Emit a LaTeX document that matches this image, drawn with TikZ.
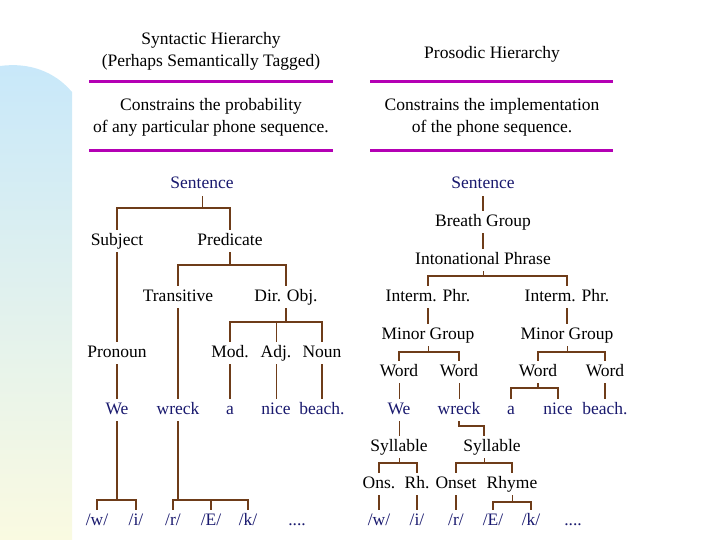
\documentclass[tikz,border=0pt]{standalone}
\usepackage{fontspec}
\setmainfont{Liberation Serif}
\usetikzlibrary{positioning}
\definecolor{navy}{RGB}{25,25,110}
\definecolor{bark}{RGB}{110,60,25}
\definecolor{rule}{RGB}{180,0,180}
\tikzstyle{lbl} = [inner xsep=1pt, inner ysep=3pt, text height=12pt, text depth=4pt, font=\fontsize{17.5}{20}\selectfont]
\tikzstyle{hd} = [inner sep=1pt, align=center, font=\fontsize{17.5}{22}\selectfont]
\tikzstyle{wrd} = [lbl, text=navy]
\tikzstyle{br} = [draw=bark, line width=2pt]
\tikzstyle{tn} = [draw=bark, line width=0.8pt]
\tikzstyle{bar} = [draw=rule, line width=3pt]
\begin{document}
\begin{tikzpicture}[x=1pt, y=1pt]
	\useasboundingbox (0,0) rectangle (720,-540);
	% background band - - - - - - - - - - - - - - - - - - - - - - - - - - -
	\shade[top color={rgb,255:red,200;green,232;blue,250}, bottom color={rgb,255:red,250;green,250;blue,225}]
		(0,-540) -- (0,-66) .. controls (30,-62) and (55,-72) .. (72,-92) -- (72,-540) -- cycle;

	% Headings - - - - - - - - - - - - - - - - - - - - - - - - - - - - - - -
	\node(synh) [hd] at (211,-51) {Syntactic Hierarchy\\(Perhaps Semantically Tagged)};
	\node(proh) [hd] at (492,-54) {Prosodic Hierarchy};
	\node(syndesc) [hd] at (211,-117) {Constrains the probability\\of any particular phone sequence.};
	\node(prodesc) [hd] at (492,-117) {Constrains the implementation\\of the phone sequence.};
	\coordinate (r1a) at (89,-82); \coordinate (r1b) at (333,-82);
	\coordinate (r2a) at (89,-151); \coordinate (r2b) at (333,-151);
	\coordinate (r3a) at (370,-82); \coordinate (r3b) at (613,-82);
	\coordinate (r4a) at (370,-151); \coordinate (r4b) at (613,-151);
	\draw[bar] (r1a) -- (r1b); \draw[bar] (r2a) -- (r2b);
	\draw[bar] (r3a) -- (r3b); \draw[bar] (r4a) -- (r4b);

	% Syntactic tree - - - - - - - - - - - - - - - - - - - - - - - - - - - -
	\node(ssent) [wrd] at (202,-185) {Sentence};
	\node(subj) [lbl] at (117,-241) {Subject};
	\node(pred) [lbl] at (230,-241) {Predicate};
	\node(trans) [lbl] at (178,-297) {Transitive};
	\node(dobj) [lbl] at (286,-297) {Dir. Obj.};
	\node(pron) [lbl] at (117,-353) {Pronoun};
	\node(mod) [lbl] at (230,-353) {Mod.};
	\node(adj) [lbl] at (276,-353) {Adj.};
	\node(noun) [lbl] at (322,-353) {Noun};
	\node(swe) [wrd] at (117,-410) {We};
	\node(swreck) [wrd] at (178,-410) {wreck};
	\node(sa) [wrd] at (230,-410) {a};
	\node(snice) [wrd] at (276,-410) {nice};
	\node(sbeach) [wrd] at (322,-410) {beach.};
	\node(sw) [wrd] at (97,-521) {/w/};
	\node(si) [wrd] at (136,-521) {/i/};
	\node(sr) [wrd] at (173,-521) {/r/};
	\node(se) [wrd] at (211,-521) {/E/};
	\node(sk) [wrd] at (248,-521) {/k/};
	\node(sdots) [wrd] at (297,-521) {....};

	\coordinate (b1) at (202,-208); \coordinate (b2) at (230,-265);
	\coordinate (b3) at (286,-322); \coordinate (b4) at (117,-500);
	\coordinate (b5) at (178,-500);
	\draw[tn](ssent)--(b1);
	\draw[br](subj)|-(b1)-|(pred);
	\draw[br](pred)--(b2);
	\draw[br](trans)|-(b2)-|(dobj);
	\draw[br](dobj)--(b3);
	\draw[br](mod)|-(b3)-|(noun);
	\draw[tn](adj)--(adj|-b3);
	\draw[br](subj)--(pron);
	\draw[br](pron)--(swe);
	\draw[br](swe)--(b4);
	\draw[br](sw)|-(b4)-|(si);
	\draw[br](trans)--(swreck);
	\draw[br](swreck)--(b5);
	\draw[br](sr)|-(b5)-|(sk);
	\draw[br](se)--(se|-b5);
	\draw[br](mod)--(sa);
	\draw[tn](adj)--(snice);
	\draw[br](noun)--(sbeach);

	% Prosodic tree - - - - - - - - - - - - - - - - - - - - - - - - - - - -
	\node(psent) [wrd] at (483,-185) {Sentence};
	\node(breath) [lbl] at (483,-222) {Breath Group};
	\node(inton) [lbl] at (483,-260) {Intonational Phrase};
	\node(ipa) [lbl] at (428,-297) {Interm. Phr.};
	\node(ipb) [lbl] at (567,-297) {Interm. Phr.};
	\node(mga) [lbl] at (428,-335) {Minor Group};
	\node(mgb) [lbl] at (567,-335) {Minor Group};
	\node(wda) [lbl] at (399,-372) {Word};
	\node(wdb) [lbl] at (459,-372) {Word};
	\node(wdc) [lbl] at (538,-372) {Word};
	\node(wdd) [lbl] at (605,-372) {Word};
	\node(pwe) [wrd] at (399,-410) {We};
	\node(pwreck) [wrd] at (459,-410) {wreck};
	\node(pa) [wrd] at (511,-410) {a};
	\node(pnice) [wrd] at (558,-410) {nice};
	\node(pbeach) [wrd] at (605,-410) {beach.};
	\node(syla) [lbl] at (399,-447) {Syllable};
	\node(sylb) [lbl] at (492,-447) {Syllable};
	\node(ons) [lbl] at (379,-484) {Ons.};
	\node(rh) [lbl] at (417,-484) {Rh.};
	\node(onset) [lbl] at (456,-484) {Onset};
	\node(rhyme) [lbl] at (512,-484) {Rhyme};
	\node(pw) [wrd] at (379,-521) {/w/};
	\node(pi) [wrd] at (417,-521) {/i/};
	\node(pr) [wrd] at (456,-521) {/r/};
	\node(pe) [wrd] at (493,-521) {/E/};
	\node(pk) [wrd] at (531,-521) {/k/};
	\node(pdots) [wrd] at (573,-521) {....};

	\coordinate (c1) at (483,-276); \coordinate (c2) at (428,-352);
	\coordinate (c3) at (567,-352); \coordinate (c4) at (538,-388);
	\coordinate (c5) at (459,-426); \coordinate (c6) at (484,-426);
	\coordinate (c7) at (399,-463); \coordinate (c8) at (484,-463);
	\coordinate (c9) at (512,-502);
	\draw[br](psent)--(breath);
	\draw[br](breath)--(inton);
	\draw[tn](inton)--(c1);
	\draw[br](ipa)|-(c1)-|(ipb);
	\draw[br](ipa)--(mga);
	\draw[br](ipb)--(mgb);
	\draw[tn](mga)--(c2);
	\draw[br](wda)|-(c2)-|(wdb);
	\draw[tn](mgb)--(c3);
	\draw[br](wdc)|-(c3)-|(wdd);
	\draw[tn](wda)--(pwe);
	\draw[tn](wdb)--(pwreck);
	\draw[br](wdc)--(c4);
	\draw[br](pa)|-(c4)-|(pnice);
	\draw[br](wdd)--(pbeach);
	\draw[tn](pwe)--(syla);
	\draw[br](pwreck)--(c5)--(c6)--(c6|-sylb.north);
	\draw[tn](syla)--(c7);
	\draw[br](ons)|-(c7)-|(rh);
	\draw[tn](c8|-sylb.south)--(c8);
	\draw[br](onset)|-(c8)-|(rhyme.north-|c9);
	\draw[br](ons)--(pw);
	\draw[br](rh)--(pi);
	\draw[br](onset)--(pr);
	\draw[tn](rhyme.south-|c9)--(c9);
	\draw[br](pe)|-(c9)-|(pk);
\end{tikzpicture}
\end{document}
